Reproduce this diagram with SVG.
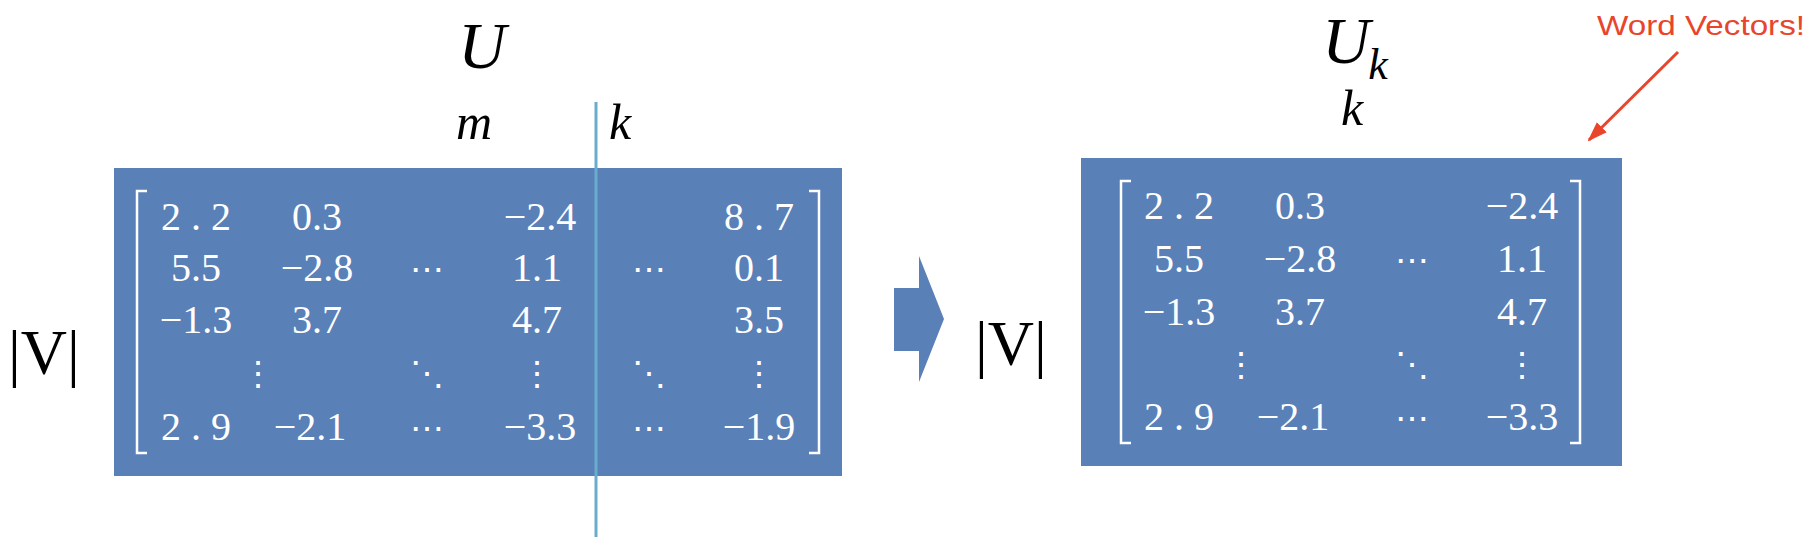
<svg xmlns="http://www.w3.org/2000/svg" width="1810" height="550" viewBox="0 0 1810 550">
<style>
.box{fill:#5a80b8}
.n{font-family:"Liberation Serif","DejaVu Serif",serif;font-size:40px;fill:#fff;text-anchor:middle}
.d{font-family:"DejaVu Serif","Liberation Serif",serif;font-size:34px;fill:#fff;text-anchor:middle}
.br{fill:none;stroke:#fff;stroke-width:2.5}
.m{font-family:"Liberation Serif","DejaVu Serif",serif;font-style:italic;fill:#000;text-anchor:middle}
.v{font-family:"Liberation Serif","DejaVu Serif",serif;font-size:64px;fill:#000}
</style>
<defs><marker id="ra" markerWidth="8" markerHeight="8" refX="6" refY="4" orient="auto" markerUnits="userSpaceOnUse" viewBox="0 0 8 8"><path d="M0,0 L8,4 L0,8 z" fill="#e8452c"/></marker>
<marker id="ra2" markerWidth="20" markerHeight="20" refX="18" refY="10" orient="auto" markerUnits="userSpaceOnUse"><path d="M0,3 L20,10 L0,17 z" fill="#e8452c"/></marker></defs>
<g id="U">
<rect class="box" x="114" y="168" width="728" height="308"/>
<text class="m" x="482" y="68" font-size="66">U</text>
<text class="m" x="474" y="139" font-size="50">m</text>
<text class="m" x="620" y="139" font-size="50">k</text>
<text class="v" x="8" y="374">|V|</text>
<path class="br" d="M147,191 H137 V453 H147 M809,191 H819 V453 H809"/>
<g class="n">
<text x="196" y="230">2 . 2</text><text x="317" y="230">0.3</text><text x="540" y="230">−2.4</text><text x="759" y="230">8 . 7</text>
<text x="196" y="281">5.5</text><text x="317" y="281">−2.8</text><text x="537" y="281">1.1</text><text x="759" y="281">0.1</text>
<text x="196" y="333">−1.3</text><text x="317" y="333">3.7</text><text x="537" y="333">4.7</text><text x="759" y="333">3.5</text>
<text x="196" y="440">2 . 9</text><text x="310" y="440">−2.1</text><text x="540" y="440">−3.3</text><text x="759" y="440">−1.9</text>
</g>
<g class="d">
<text x="427" y="281">⋯</text><text x="649" y="281">⋯</text>
<text x="427" y="440">⋯</text><text x="649" y="440">⋯</text>
<text x="258" y="385">⋮</text><text x="427" y="385">⋱</text><text x="537" y="385">⋮</text><text x="649" y="385">⋱</text><text x="759" y="385">⋮</text>
</g>
</g>
<g id="arrow"><path class="box" d="M894,288 H919 V256 L944,319 L919,382 V351 H894 z"/></g>
<g id="Uk">
<rect class="box" x="1081" y="158" width="541" height="308"/>
<text class="m" x="1346" y="63" font-size="66">U</text>
<text class="m" x="1378" y="79" font-size="44">k</text>
<text class="m" x="1352" y="125" font-size="50">k</text>
<text class="v" x="975" y="365">|V|</text>
<path class="br" d="M1131,181 H1121 V443 H1131 M1570,181 H1580 V443 H1570"/>
<g class="n">
<text x="1179" y="219">2 . 2</text><text x="1300" y="219">0.3</text><text x="1522" y="219">−2.4</text>
<text x="1179" y="272">5.5</text><text x="1300" y="272">−2.8</text><text x="1522" y="272">1.1</text>
<text x="1179" y="325">−1.3</text><text x="1300" y="325">3.7</text><text x="1522" y="325">4.7</text>
<text x="1179" y="430">2 . 9</text><text x="1293" y="430">−2.1</text><text x="1522" y="430">−3.3</text>
</g>
<g class="d">
<text x="1412" y="272">⋯</text><text x="1412" y="430">⋯</text>
<text x="1241" y="376">⋮</text><text x="1412" y="376">⋱</text><text x="1522" y="376">⋮</text>
</g>
</g>
<g id="label"><text x="1597" y="35" font-family="Liberation Sans, Arial, sans-serif" font-size="28" fill="#e8452c" textLength="208" lengthAdjust="spacingAndGlyphs">Word Vectors!</text></g>
<g id="connectors">
<line x1="596" y1="102" x2="596" y2="537" stroke="#6aaccc" stroke-width="3"/>
<line x1="1678" y1="52" x2="1589" y2="140" stroke="#e8452c" stroke-width="3" marker-end="url(#ra2)"/>
</g>
</svg>
